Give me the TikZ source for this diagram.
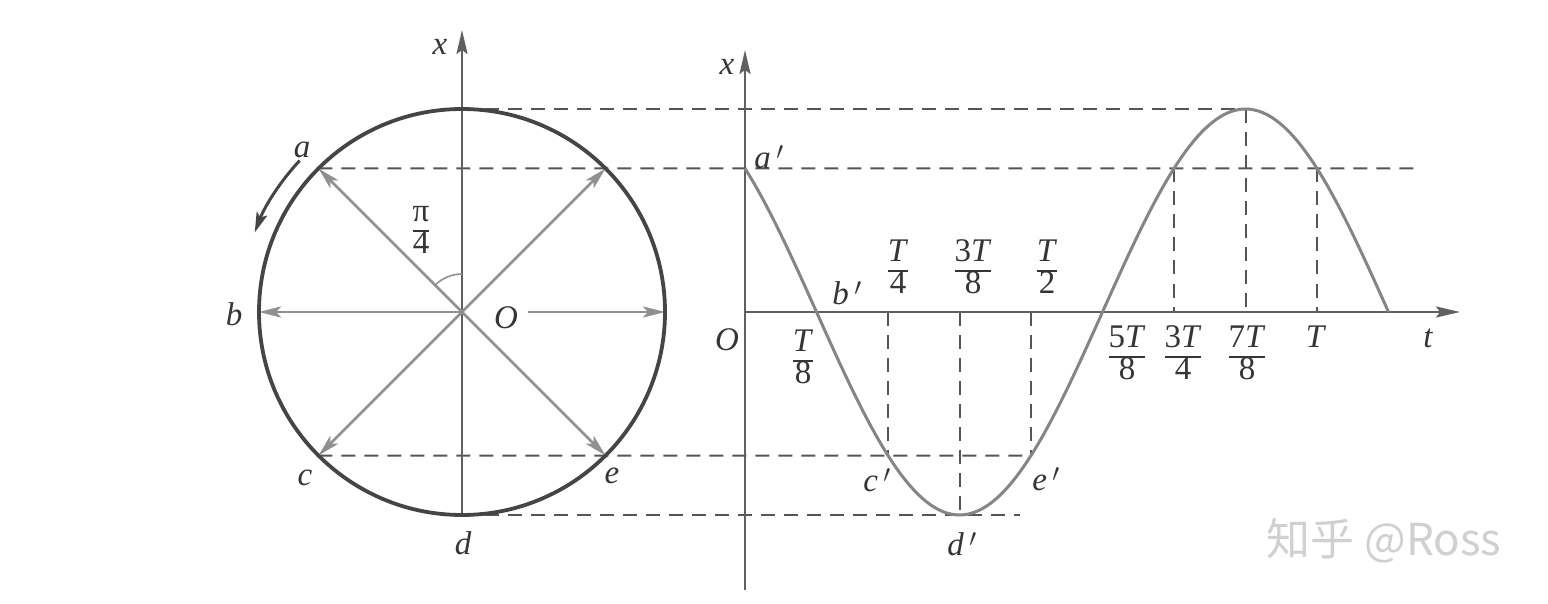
\documentclass[tikz,border=0pt]{standalone}
\usepackage{fontspec}
\setmainfont{Liberation Serif}
\newfontfamily\cjk{Noto Sans CJK SC}
\usetikzlibrary{arrows.meta,calc}
\definecolor{circ}{HTML}{454545}
\definecolor{rad}{HTML}{909090}
\definecolor{axisc}{HTML}{606060}
\definecolor{dashc}{HTML}{555555}
\definecolor{curvec}{HTML}{858585}
\definecolor{txt}{HTML}{353535}
\definecolor{wm}{HTML}{D0D0D0}
\newcommand{\fr}[2]{{\renewcommand{\arraystretch}{0.78}\setlength{\arrayrulewidth}{1.8pt}\begin{tabular}{@{}c@{}}#1\\\hline #2\end{tabular}}}
\begin{document}
\begin{tikzpicture}[x=1pt,y=-1pt,
  lab/.style={font=\fontsize{33}{37}\selectfont\itshape, text=txt, inner sep=0pt},
  num/.style={font=\fontsize{33}{37}\selectfont, text=txt, inner sep=0pt},
  guide/.style={draw=dashc, line width=2pt, dash pattern=on 14pt off 9pt},
  radial/.style={draw=rad, line width=2.8pt, -{Stealth[length=22pt,width=11pt,inset=5pt]}},
  axisline/.style={draw=axisc, line width=2.4pt, -{Stealth[length=24pt,width=11pt,inset=4pt]}},
  ]
\fill[white] (0,0) rectangle (1548,604);
\useasboundingbox (0,0) rectangle (1548,604);

% ---- left: circle ----
\coordinate (O) at (462,312);
\coordinate (a) at ($(O)+(-135:203)$);
\coordinate (f) at ($(O)+(-45:203)$);
\coordinate (b) at ($(O)+(-180:203)$);
\coordinate (c) at ($(O)+(135:203)$);
\coordinate (e) at ($(O)+(45:203)$);
\coordinate (d) at ($(O)+(90:203)$);
\coordinate (top) at ($(O)+(-90:203)$);
\coordinate (g) at ($(O)+(0:203)$);
\coordinate (gs) at (528,312);
\coordinate (xtop) at (462,30);

% ---- right: graph ----
\coordinate (O2) at (745,312);
\coordinate (x2bot) at (745,590);
\coordinate (x2top) at (745,50);
\coordinate (tend) at (1460,312);
\coordinate (ap) at (745,168.5);
\coordinate (bp) at (816.5,312);
\coordinate (cp) at (888,455.5);
\coordinate (dp) at (959.5,515);
\coordinate (ep) at (1031,455.5);
\coordinate (pk) at (1245.5,109);
\coordinate (q3) at (1174,168.5);
\coordinate (qT) at (1317,168.5);
\coordinate (t4) at (888,312);
\coordinate (t38) at (959.5,312);
\coordinate (t2) at (1031,312);
\coordinate (t34) at (1174,312);
\coordinate (t78) at (1245.5,312);
\coordinate (tT) at (1317,312);
\coordinate (aend) at (1415,168.5);
\coordinate (dend) at (1020,515);

% dashed guides
\draw[guide] (top) -- (pk);
\draw[guide] (a) -- (aend);
\draw[guide] (c) -- (ep);
\draw[guide] (d) -- (dend);
\draw[guide] (t4) -- (cp);
\draw[guide] (t38) -- (dp);
\draw[guide] (t2) -- (ep);
\draw[guide] (q3) -- (t34);
\draw[guide] (pk) -- (t78);
\draw[guide] (qT) -- (tT);

% axes
\draw[axisline] (d) -- (xtop);
\draw[axisline] (x2bot) -- (x2top);
\draw[axisline] (O2) -- (tend);

% radial arrows
\draw[radial] (O) -- (a);
\draw[radial] (O) -- (f);
\draw[radial] (O) -- (b);
\draw[radial] (O) -- (c);
\draw[radial] (O) -- (e);
\draw[radial] (gs) -- (g);

% circle
\draw[circ, line width=3.8pt] (O) circle[radius=203];
% angle arc
\draw[rad, line width=1.6pt] ($(O)+(-90:38)$) arc[start angle=-90, end angle=-135, radius=38];
% rotation arrow
\draw[circ, line width=3pt, -{Stealth[length=20pt,width=11pt,inset=4pt]}] ($(O)+(-137:222)$) arc[start angle=-137, end angle=-159, radius=222];

% curve
\draw[curvec, line width=3pt] plot[domain=0:643.5, samples=150] ({745+\x}, {312-203*cos(\x/572*360+45)});

% labels left
\node[lab] (la) at (302,150) {a};
\node[lab] (lb) at (234,314) {b};
\node[lab] (lc) at (305,478) {c};
\node[lab] (ld) at (463,543) {d};
\node[lab] (le) at (612,476) {e};
\node[lab] (lO) at (506,318) {O};
\node[lab] (lx1) at (440,47) {x};
\node[num] (lpi) at (421,232) {\fr{π}{4}};

% labels right
\node[lab] (lx2) at (727,67) {x};
\node[lab] (lO2) at (727,340) {O};
\node[lab] (lt) at (1428,338) {t};
\node[lab] (lap) at (769,157) {a\,$'$};
\node[lab] (lbp) at (847,293) {b\,$'$};
\node[lab] (lcp) at (877,480) {c\,$'$};
\node[lab] (lep) at (1046,479) {e\,$'$};
\node[lab] (ldp) at (962,544) {d\,$'$};
\node[num] (f4) at (898,271) {\fr{\textit{T}}{4}};
\node[num] (f38) at (973,271) {\fr{3\textit{T}}{8}};
\node[num] (f2) at (1047,271) {\fr{\textit{T}}{2}};
\node[num] (f8) at (803,361) {\fr{\textit{T}}{8}};
\node[num] (f58) at (1127,357) {\fr{5\textit{T}}{8}};
\node[num] (f34) at (1183,357) {\fr{3\textit{T}}{4}};
\node[num] (f78) at (1247,357) {\fr{7\textit{T}}{8}};
\node[lab] (lT) at (1315,337) {T};

% watermark
\node[text=wm, inner sep=0pt, font=\cjk\fontsize{44}{48}\selectfont] (wmk) at (1384,541) {知乎 @Ross};
\end{tikzpicture}
\end{document}
